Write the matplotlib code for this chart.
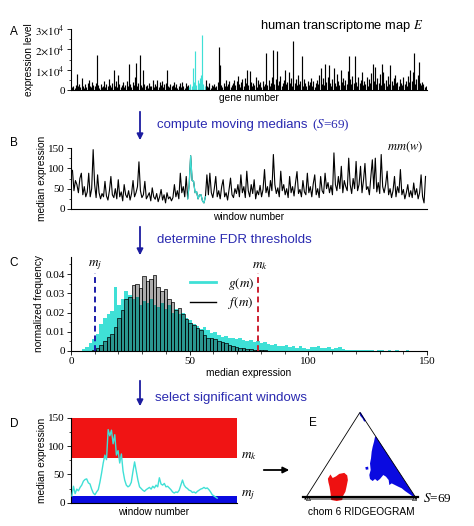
import numpy as np
import matplotlib
matplotlib.use("Agg")
import matplotlib.pyplot as plt
from matplotlib.patches import FancyArrowPatch
from matplotlib.lines import Line2D

plt.rcParams['font.family'] = 'Liberation Sans'
plt.rcParams['mathtext.fontset'] = 'stix'

# ---------------- data ----------------
# A: expression level per gene (units of 1e3), highlighted region in cyan
expr_level = [
    1.5, 2.0, 1.2, 2.5, 8.0, 1.8, 3.0, 1.5, 6.0, 2.2,
    1.0, 2.8, 1.6, 3.5, 5.0, 2.0, 1.4, 4.0, 2.6, 1.8,
    3.2, 17.0, 2.4, 1.2, 3.0, 1.6, 2.2, 4.5, 1.5, 2.8,
    1.9, 5.5, 2.5, 1.4, 3.4, 10.0, 2.1, 4.2, 1.7, 7.5,
    3.0, 1.5, 2.4, 3.8, 1.3, 2.6, 4.5, 1.8, 12.7, 2.9,
    1.6, 4.0, 2.3, 6.5, 13.5, 2.0, 3.3, 17.3, 2.7, 1.5,
    10.0, 3.1, 1.9, 2.5, 1.2, 3.6, 1.8, 2.2, 5.0, 1.6,
    3.0, 2.0, 5.0, 1.4, 3.9, 2.3, 4.6, 1.7, 2.8, 3.5,
    10.0, 2.1, 1.3, 3.0, 1.8, 2.4, 4.0, 1.5, 2.9, 1.1,
    2.0, 3.3, 1.6, 4.0, 2.2, 1.2, 3.6, 1.8, 2.5, 1.5,
    3.0, 2.0, 10.7, 4.0, 19.3, 2.5, 5.0, 3.5, 6.0, 7.5,
    27.0, 3.0, 1.8, 5.0, 2.0, 1.5, 3.2, 1.2, 2.6, 1.8,
    3.0, 1.4, 2.2, 3.8, 21.0, 12.4, 2.5, 1.6, 3.4, 2.0,
    5.0, 1.8, 3.0, 4.2, 1.5, 2.7, 3.6, 5.0, 2.3, 4.4,
    7.0, 2.8, 1.6, 3.9, 5.5, 2.0, 6.0, 3.2, 10.0, 2.5,
    9.5, 4.0, 1.9, 3.5, 2.4, 6.2, 1.7, 5.0, 2.9, 3.8,
    1.5, 4.5, 2.2, 3.0, 18.0, 2.6, 4.8, 1.9, 3.4, 6.5,
    19.8, 3.0, 5.5, 19.3, 2.4, 4.2, 7.0, 2.1, 3.6, 5.0,
    10.0, 2.8, 4.0, 9.0, 3.2, 6.0, 2.0, 24.0, 3.5, 5.2,
    2.6, 7.5, 3.0, 4.4, 16.8, 2.2, 5.5, 3.3, 1.8, 4.6,
    2.5, 3.8, 6.0, 2.0, 4.2, 1.6, 3.4, 5.0, 2.8, 7.2,
    10.7, 3.0, 5.8, 2.4, 13.0, 4.0, 6.5, 12.4, 3.2, 2.0,
    5.5, 10.7, 3.6, 2.2, 8.0, 4.4, 2.7, 10.0, 3.8, 6.0,
    2.5, 4.8, 3.0, 9.5, 16.5, 5.2, 2.8, 7.0, 3.6, 16.5,
    4.0, 2.2, 6.6, 3.4, 5.0, 9.0, 2.6, 4.5, 3.0, 6.5,
    2.0, 5.4, 3.3, 8.5, 13.0, 4.2, 11.5, 2.8, 6.0, 3.5,
    7.8, 2.4, 13.0, 9.0, 3.6, 5.0, 2.2, 6.8, 3.0, 12.4,
    4.5, 2.6, 5.8, 7.5, 3.2, 4.0, 2.0, 5.2, 3.4, 2.5,
    6.5, 3.0, 4.6, 2.2, 7.0, 3.8, 10.0, 4.4, 9.0, 18.0,
    3.0, 5.6, 7.5, 14.0, 3.2, 2.4, 4.0, 2.8, 1.6, 2.2,
]
gene_cyan = (99, 112)

# B: moving medians per window
moving_median = [
    95, 45, 70, 60, 40, 75, 88, 35, 55, 30,
    42, 88, 30, 50, 146, 60, 28, 84, 40, 25,
    38, 30, 68, 32, 22, 45, 80, 35, 28, 50,
    25, 72, 30, 42, 20, 60, 35, 28, 45, 22,
    38, 70, 30, 40, 55, 116, 45, 28, 35, 68,
    25, 32, 40, 20, 52, 30, 24, 38, 18, 30,
    48, 22, 35, 15, 40, 25, 30, 20, 28, 60,
    30, 45, 25, 88, 40, 55, 30, 80, 25, 60,
    131, 70, 68, 40, 43, 25, 35, 35, 20, 15,
    30, 84, 35, 88, 40, 28, 50, 80, 30, 45,
    25, 55, 72, 30, 40, 22, 48, 76, 35, 28,
    50, 38, 60, 30, 84, 40, 55, 28, 93, 45,
    30, 60, 38, 72, 25, 45, 35, 58, 30, 48,
    97, 40, 55, 30, 70, 45, 134, 60, 38, 52,
    30, 93, 45, 60, 35, 50, 28, 80, 40, 55,
    32, 65, 92, 38, 48, 30, 70, 42, 35, 88,
    40, 55, 30, 62, 84, 35, 50, 28, 80, 45,
    38, 88, 50, 65, 40, 58, 35, 138, 60, 45,
    80, 50, 105, 40, 70, 55, 45, 125, 60, 38,
    75, 50, 117, 45, 60, 105, 40, 70, 112, 48,
    55, 35, 80, 121, 50, 125, 42, 65, 38, 134,
    55, 40, 60, 93, 35, 50, 28, 45, 80, 30,
    55, 40, 97, 35, 48, 25, 40, 60, 30, 45,
    28, 64, 35, 50, 25, 40, 84, 30, 15, 80,
]
window_cyan = (78, 90)

# C: normalized frequency histograms (bin width 1.5)
bin_width = 1.5
g_start = 4.5
g_freq = [
    0.0008, 0.0020, 0.0040, 0.0060, 0.0090, 0.0140, 0.0170, 0.0190, 0.0210, 0.0330,
    0.0240, 0.0270, 0.0310, 0.0290, 0.0270, 0.0280, 0.0240, 0.0260, 0.0250, 0.0270,
    0.0240, 0.0230, 0.0250, 0.0220, 0.0240, 0.0200, 0.0220, 0.0190, 0.0200, 0.0170,
    0.0160, 0.0140, 0.0130, 0.0115, 0.0125, 0.0110, 0.0095, 0.0100, 0.0085, 0.0075,
    0.0080, 0.0070, 0.0065, 0.0060, 0.0066, 0.0055, 0.0050, 0.0058, 0.0045, 0.0052,
    0.0040, 0.0046, 0.0035, 0.0030, 0.0038, 0.0028, 0.0025, 0.0032, 0.0022, 0.0026,
    0.0018, 0.0024, 0.0015, 0.0012, 0.0020, 0.0022, 0.0026, 0.0018, 0.0014, 0.0020,
    0.0010, 0.0016, 0.0022, 0.0008, 0.0006, 0.0005, 0.0007, 0.0004, 0.0005, 0.0003,
    0.0004, 0.0003, 0.0002, 0.0005, 0.0003, 0.0002, 0.0004, 0.0002, 0.0003, 0.0002,
    0.0002, 0.0003, 0.0001,
]
f_start = 9.0
f_freq = [
    0.0005, 0.0015, 0.0030, 0.0050, 0.0075, 0.0090, 0.0125, 0.0170, 0.0215, 0.0270,
    0.0280, 0.0345, 0.0350, 0.0325, 0.0390, 0.0365, 0.0375, 0.0395, 0.0330, 0.0310,
    0.0320, 0.0270, 0.0255, 0.0215, 0.0225, 0.0190, 0.0165, 0.0145, 0.0135, 0.0120,
    0.0110, 0.0085, 0.0065, 0.0068, 0.0060, 0.0050, 0.0045, 0.0040, 0.0032, 0.0028,
    0.0022, 0.0018, 0.0015, 0.0012, 0.0009, 0.0007, 0.0005, 0.0004, 0.0003, 0.0002,
    0.0001,
]
m_j = 10
m_k = 79

# D: moving medians of a single region
region_median = [
    12, 29, 16, 24, 21, 27, 31, 38, 41, 42,
    35, 33, 24, 17, 14, 19, 23, 36, 52, 70,
    84, 76, 129, 118, 128, 104, 120, 84, 92, 70,
    86, 56, 40, 31, 28, 30, 36, 55, 72, 56,
    40, 28, 25, 22, 20, 23, 25, 27, 24, 29,
    26, 31, 28, 44, 33, 31, 34, 28, 29, 26,
    23, 19, 17, 19, 18, 22, 31, 40, 31, 27,
    25, 22, 21, 18, 19, 17, 20, 22, 24, 25,
    27, 25, 26, 23, 19, 14, 12, 10, 8,
]
low_band = 12
high_band = 79

# E: ridgeogram regions in triangle coordinates
tri_x = [0.0, 1.0, 0.492, 0.0]
tri_y = [0.0, 0.0, 0.776, 0.0]
blue_x = [0.627, 0.618, 0.606, 0.597, 0.591, 0.582, 0.588, 0.576, 0.582, 0.606,
          0.627, 0.648, 0.671, 0.701, 0.725, 0.749, 0.755, 0.776, 0.806, 0.836,
          0.866, 0.895, 0.925, 0.955, 0.985, 0.998, 0.637]
blue_y = [0.558, 0.513, 0.468, 0.424, 0.364, 0.319, 0.260, 0.215, 0.179, 0.161,
          0.179, 0.161, 0.179, 0.215, 0.200, 0.170, 0.125, 0.140, 0.125, 0.110,
          0.096, 0.072, 0.051, 0.030, 0.012, 0.002, 0.558]
blue_dot_x = [0.540, 0.565, 0.568, 0.545]
blue_dot_y = [0.285, 0.290, 0.265, 0.262]
blue_top_x = [0.486, 0.498, 0.545, 0.530, 0.515, 0.495]
blue_top_y = [0.770, 0.778, 0.700, 0.693, 0.722, 0.745]
red_x = [0.205, 0.228, 0.248, 0.278, 0.307, 0.352, 0.378, 0.384, 0.372, 0.362,
         0.342, 0.333, 0.284, 0.235, 0.229, 0.220, 0.210]
red_y = [0.182, 0.220, 0.188, 0.203, 0.225, 0.234, 0.211, 0.170, 0.110, 0.065,
         0.030, -0.009, -0.018, -0.009, 0.051, 0.110, 0.149]

# ---------------- figure ----------------
W, H = 474, 526
fig = plt.figure(figsize=(W / 100, H / 100), dpi=100)


def box(l, t, r, b):
    return [l / W, 1 - b / H, (r - l) / W, (b - t) / H]


def fpos(px, py):
    return (px / W, 1 - py / H)


CYAN = '#3fe0d6'
BLUE_TXT = '#2a2ab0'
BLUE_ARR = '#1c1ca0'
serif = 'Liberation Serif'


def style(ax):
    for s in ['top', 'right']:
        ax.spines[s].set_visible(False)
    for s in ['left', 'bottom']:
        ax.spines[s].set_linewidth(0.8)
    ax.tick_params(which='major', direction='out', length=3, width=0.6,
                   labelsize=8, labelfontfamily=serif, pad=1.5)
    ax.tick_params(which='minor', direction='out', length=1.8, width=0.5)


# A
axA = fig.add_axes(box(71, 29, 427, 90))
genes = np.arange(len(expr_level))
colsA = [CYAN if gene_cyan[0] <= i <= gene_cyan[1] else 'black' for i in genes]
axA.vlines(genes, 0, expr_level, colors=colsA, lw=0.85)
axA.set_xlim(-1, len(expr_level))
axA.set_ylim(0, 30)
axA.set_yticks([0, 10, 20, 30])
axA.set_yticklabels(['0', r'$1{\times}10^4$', r'$2{\times}10^4$', r'$3{\times}10^4$'])
axA.set_yticks([5, 15, 25], minor=True)
axA.set_xticks([])
style(axA)
axA.set_ylabel('expression level', fontsize=7.3, labelpad=1)
axA.set_xlabel('gene number', fontsize=7.3, labelpad=2)

# B
axB = fig.add_axes(box(71, 148, 427, 209))
wins = np.arange(len(moving_median))
axB.plot(wins, moving_median, color='black', lw=0.8)
c0, c1 = window_cyan
axB.plot(wins[c0:c1 + 1], moving_median[c0:c1 + 1], color=CYAN, lw=0.9)
axB.set_xlim(-1, len(moving_median))
axB.set_ylim(0, 150)
axB.set_yticks([0, 50, 100, 150])
axB.set_yticks([25, 75, 125], minor=True)
axB.set_xticks([])
style(axB)
axB.set_ylabel('median expression', fontsize=7.3, labelpad=1)
axB.set_xlabel('window number', fontsize=7.3, labelpad=2)

# C
axC = fig.add_axes(box(71, 256.7, 427, 351))
g_left = g_start + bin_width * np.arange(len(g_freq))
f_left = f_start + bin_width * np.arange(len(f_freq))
axC.bar(g_left, g_freq, width=bin_width, align='edge', color=CYAN, lw=0)
axC.bar(f_left, f_freq, width=bin_width, align='edge',
        facecolor=(0, 0, 0, 0.33), edgecolor='black', lw=0.5)
axC.plot([m_j, m_j], [0, 0.0405], color='#1a1aa8', lw=1.4, ls=(0, (3, 2)))
axC.plot([m_k, m_k], [0, 0.0405], color='#cc2030', lw=1.4, ls=(0, (3, 2)))
axC.text(m_j, 0.0412, r'$m_j$', fontsize=9.5, ha='center', va='bottom')
axC.text(m_k + 0.5, 0.0412, r'$m_k$', fontsize=9.5, ha='center', va='bottom')
axC.set_xlim(0, 150)
axC.set_ylim(0, 0.049)
axC.set_yticks([0, 0.01, 0.02, 0.03, 0.04])
axC.set_yticklabels(['0', '0.01', '0.02', '0.03', '0.04'])
axC.set_yticks([0.005, 0.015, 0.025, 0.035, 0.045], minor=True)
axC.set_xticks([0, 50, 100, 150])
axC.set_xticks(np.arange(10, 150, 10), minor=True)
style(axC)
axC.set_ylabel('normalized frequency', fontsize=7.3, labelpad=1)
axC.set_xlabel('median expression', fontsize=7.3, labelpad=1)
handles = [Line2D([], [], color=CYAN, lw=2), Line2D([], [], color='black', lw=1)]
axC.legend(handles, [r'$g(m)$', r'$f(m)$'], loc='upper left',
           bbox_to_anchor=fpos(190, 276), bbox_transform=fig.transFigure,
           frameon=False, fontsize=9.5, handlelength=2.0, handletextpad=0.9,
           labelspacing=0.25, borderpad=0, borderaxespad=0)

# D
axD = fig.add_axes(box(71, 417.7, 237, 502.7))
reg = np.arange(len(region_median))
axD.axhspan(high_band, 150, color='#f01414', lw=0)
axD.axhspan(0, low_band, color='#0a0ae0', lw=0)
axD.plot(reg, region_median, color=CYAN, lw=1.0, zorder=3)
axD.set_xlim(-0.5, 100)
axD.set_ylim(0, 150)
axD.set_yticks([0, 50, 100, 150])
axD.set_yticks([25, 75, 125], minor=True)
axD.set_xticks([])
style(axD)
axD.set_ylabel('median expression', fontsize=7.3, labelpad=1)
axD.set_xlabel('window number', fontsize=7.3, labelpad=3)

# E
axE = fig.add_axes(box(290, 405, 470, 520))
axE.set_xlim(-0.134, 1.477)
axE.set_ylim(-0.188, 0.842)
axE.axis('off')
axE.fill(red_x, red_y, color='#ee1111', lw=0)
axE.fill(blue_x, blue_y, color='#0a0ae0', lw=0)
axE.fill(blue_dot_x, blue_dot_y, color='#0a0ae0', lw=0)
axE.fill(blue_top_x, blue_top_y, color='#0a0ae0', lw=0)
axE.plot(tri_x, tri_y, color='black', lw=0.6)
axE.plot([-0.021, 1.014], [0.018, 0.018], color='black', lw=1.6)
axE.plot([0.03, 0.975], [0.006, 0.006], ls='none', marker='^', ms=3,
         mfc='none', mec='black', mew=0.4)

# ---------------- annotations ----------------
for lab, (px, py) in [('A', (14, 32)), ('B', (14, 143)), ('C', (14, 263)),
                      ('D', (14, 424)), ('E', (313, 423))]:
    fig.text(*fpos(px, py), lab, fontsize=8.5, ha='center', va='center')

fig.text(*fpos(423, 26), r'human transcriptome map $E$', fontsize=9.3,
         ha='right', va='center')
fig.text(*fpos(423, 147), r'$mm(w)$', fontsize=9, ha='right', va='center')

fig.text(*fpos(157, 125), 'compute moving medians', fontsize=9.5,
         color=BLUE_TXT, ha='left', va='center')
fig.text(*fpos(312, 125), r'($S$=69)', fontsize=9.5, family=serif,
         color=BLUE_TXT, ha='left', va='center')
fig.text(*fpos(157, 240), 'determine FDR thresholds', fontsize=9.5,
         color=BLUE_TXT, ha='left', va='center')
fig.text(*fpos(155, 398), 'select significant windows', fontsize=9.5,
         color=BLUE_TXT, ha='left', va='center')

fig.text(*fpos(241, 456), r'$m_k$', fontsize=9.5, ha='left', va='center')
fig.text(*fpos(241, 495), r'$m_j$', fontsize=9.5, ha='left', va='center')
fig.text(*fpos(423, 498), r'$S$=69', fontsize=9.5, family=serif,
         ha='left', va='center')
fig.text(*fpos(361, 512), 'chom 6 RIDGEOGRAM', fontsize=7.3,
         ha='center', va='center')

for (y0, y1) in [(109, 143), (224, 258), (378, 409)]:
    fig.add_artist(FancyArrowPatch(fpos(140, y0), fpos(140, y1),
                                   transform=fig.transFigure, arrowstyle='-|>',
                                   mutation_scale=9, lw=1.3, color=BLUE_ARR))
fig.add_artist(FancyArrowPatch(fpos(261, 470), fpos(292, 470),
                               transform=fig.transFigure, arrowstyle='-|>',
                               mutation_scale=9, lw=1.3, color='black'))

fig.savefig('out.png', dpi=100)
